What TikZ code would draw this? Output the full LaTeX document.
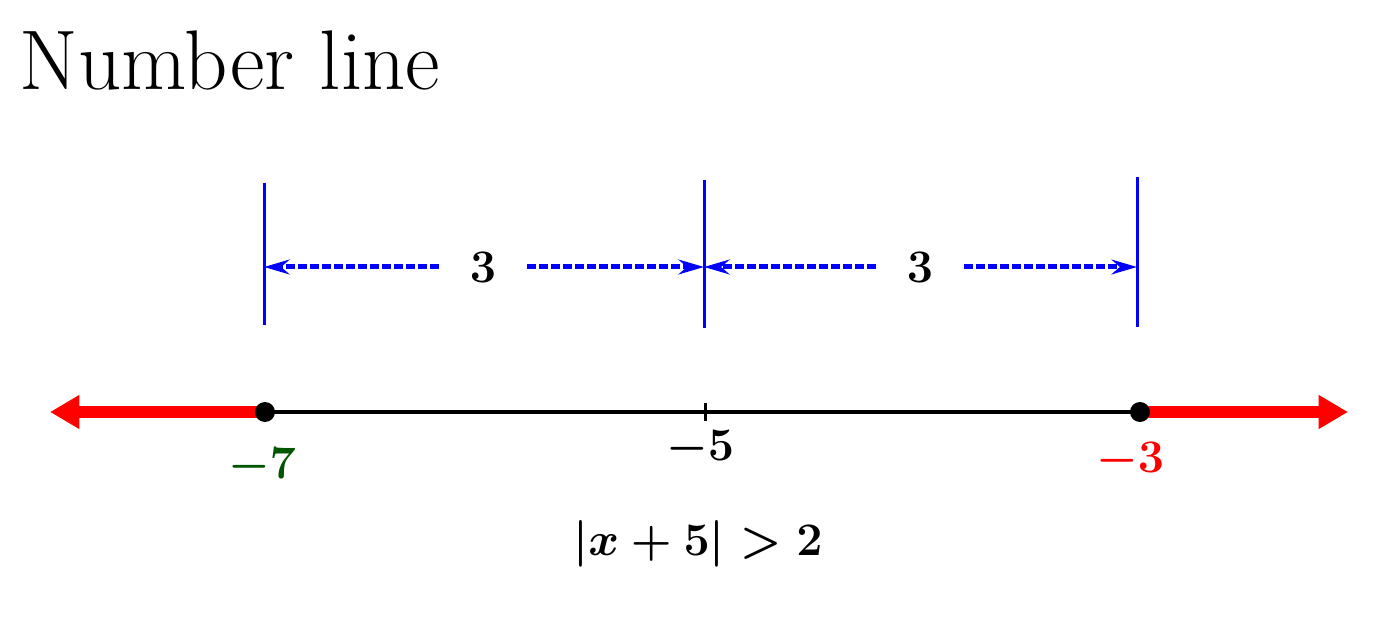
\RequirePackage{fix-cm}
\documentclass[tikz,border=0pt]{standalone}
\usepackage{amsmath, amssymb}
\usetikzlibrary{arrows.meta}
\tikzset{every picture/.style={line width=0.75pt}}
\definecolor{numgreen}{RGB}{0,85,0}
\tikzset{
  dot/.style={circle, fill=black, inner sep=0pt, minimum size=15pt},
  axis/.style={line width=3pt},
  ray/.style={red, line width=9.5pt, -{Triangle[length=22pt, width=24pt]}},
  guide/.style={blue, line width=2.25pt},
  dim/.style={blue, line width=3.75pt, dash pattern=on 6.5pt off 2.5pt, -{Stealth[length=19pt, width=11pt]}},
  gap/.style={inner xsep=23pt, inner ysep=2pt, font=\fontsize{35}{40}\selectfont\boldmath},
  lab/.style={inner sep=0pt, font=\fontsize{35}{40}\selectfont\boldmath}
}

\begin{document}
\begin{tikzpicture}[x=0.75pt,y=0.75pt,yscale=-1,xscale=1]
\useasboundingbox (0,0) rectangle (1381,641);

% Title
\node (title) [anchor=base west, inner sep=0pt, font=\fontsize{63.5}{66}\selectfont] at (19,90) {Number line};

% Number line
\coordinate (lend) at (50,412);
\coordinate (rend) at (1348,412);
\coordinate (m7) at (265,412);
\coordinate (m5) at (705,412);
\coordinate (m3) at (1140,412);
\draw [axis] (m7) -- (m3);
\draw [ray] (m7) -- (lend);
\draw [ray] (m3) -- (rend);
\draw [line width=2.25pt] (m5) ++(0,-9) -- ++(0,18);
\node (p7) [dot] at (m7) {};
\node (p3) [dot] at (m3) {};

% Guide lines
\draw [guide] (264,183) -- (264,325);
\draw [guide] (704,180) -- (704,328);
\draw [guide] (1137,177) -- (1137,327);

% Distances
\coordinate (g7) at (264,267);
\coordinate (g5) at (704,267);
\coordinate (g3) at (1137,267);
\node (d1) [gap] at (483,267) {$3$};
\node (d2) [gap] at (920,267) {$3$};
\draw [dim] (d1.west) -- (g7);
\draw [dim] (d1.east) -- (g5);
\draw [dim] (d2.west) -- (g5);
\draw [dim] (d2.east) -- (g3);

% Labels
\node (l7) [lab, anchor=base, text=numgreen] at (262,478) {$-7$};
\node (l5) [lab, anchor=base] at (700,460) {$-5$};
\node (l3) [lab, anchor=base, text=red] at (1130,472) {$-3$};
\node (ineq) [lab, anchor=base] at (698,555) {$|x+5|>2$};

\end{tikzpicture}
\end{document}
